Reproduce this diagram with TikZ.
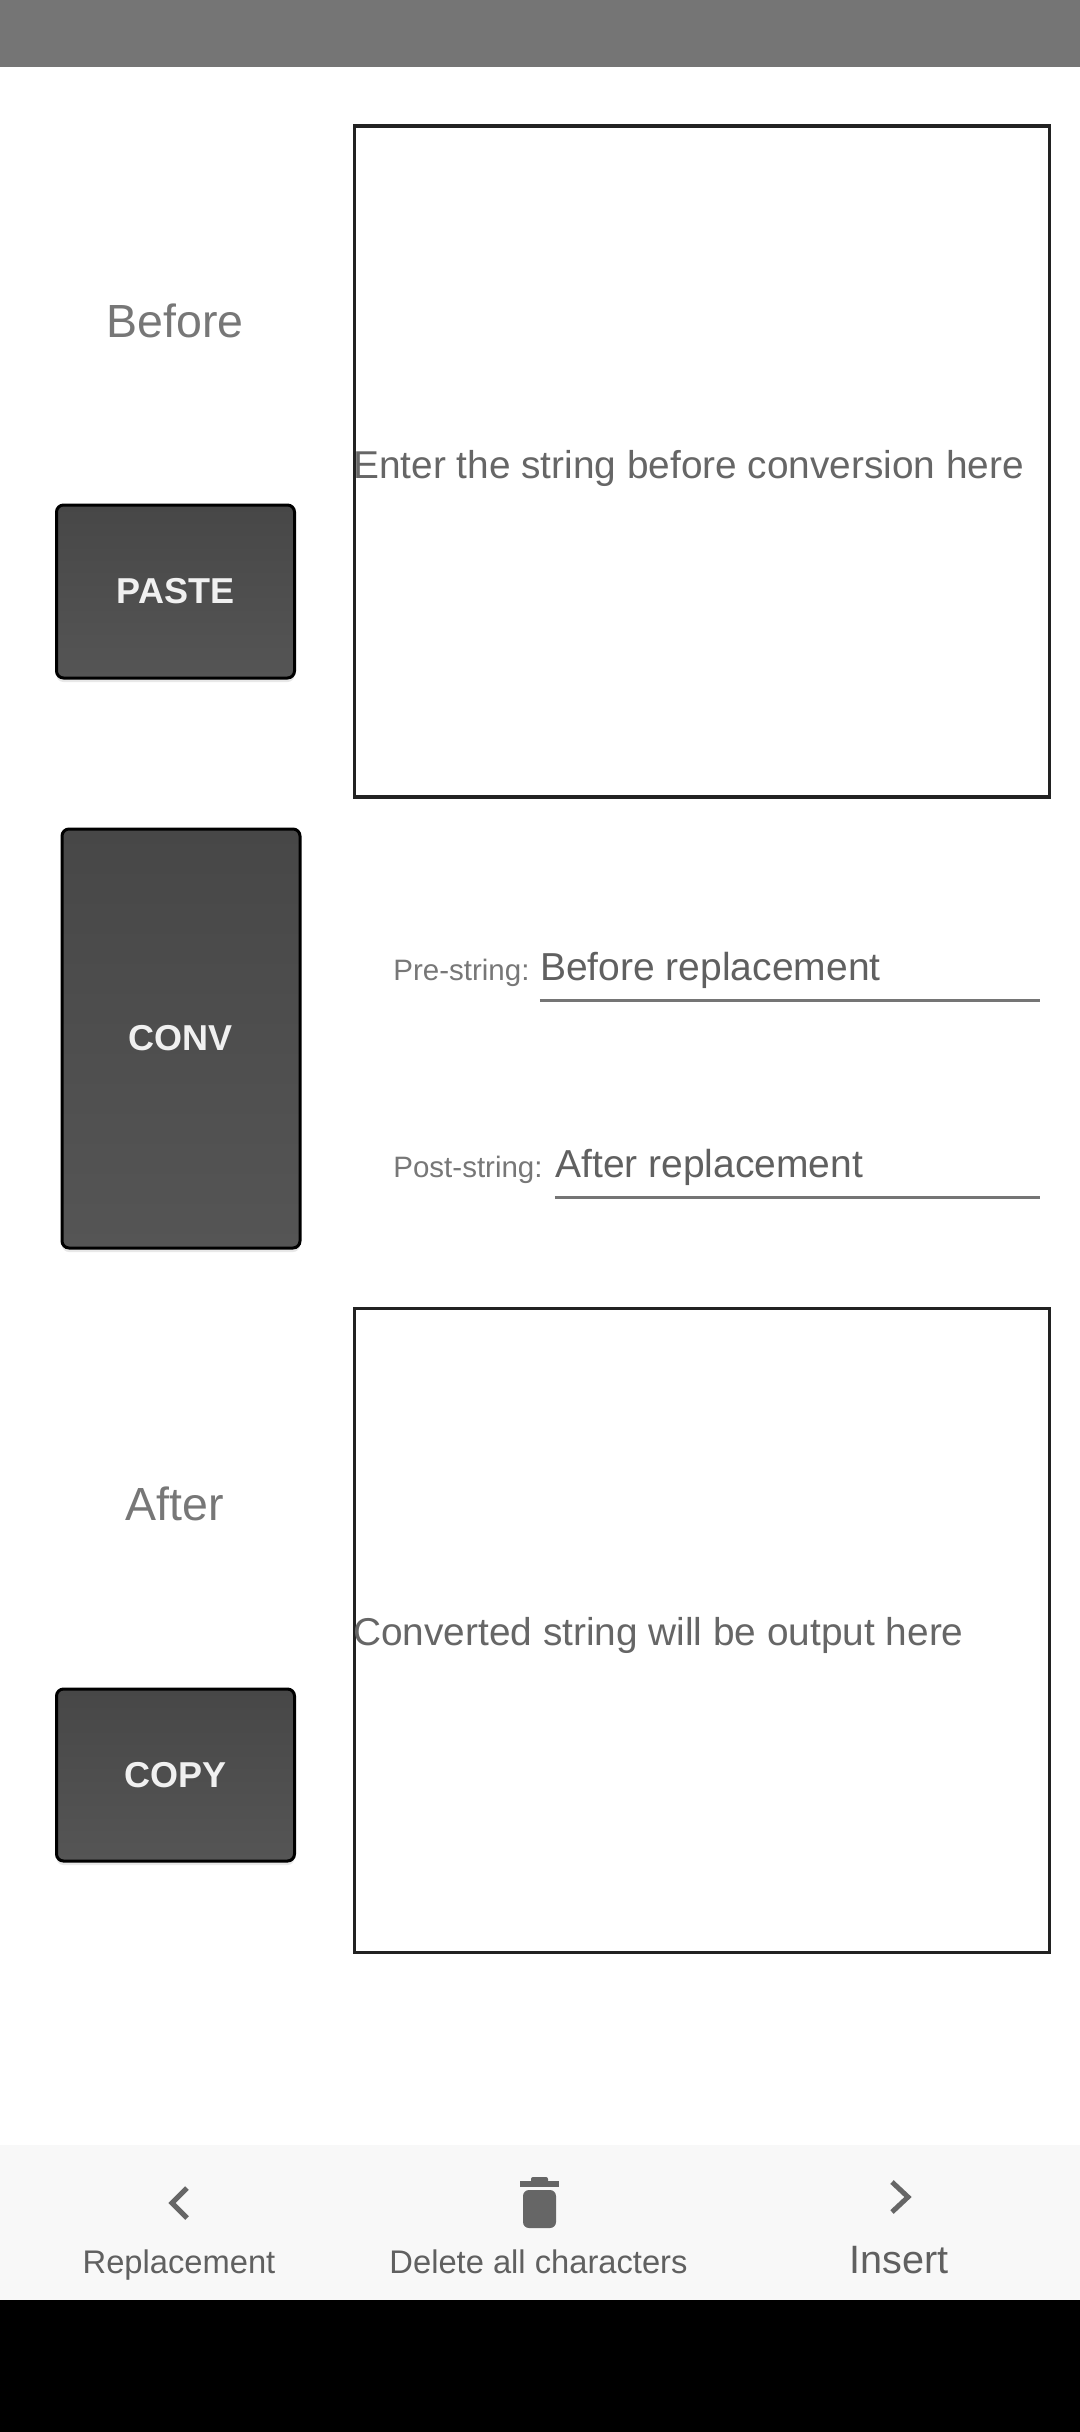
\documentclass[tikz,border=0pt]{standalone}
\usepackage{fontspec}
\setmainfont{Liberation Sans}
\usetikzlibrary{positioning,shadows}

\definecolor{barGray}{HTML}{757575}
\definecolor{btnTop}{HTML}{474747}
\definecolor{btnBot}{HTML}{555555}
\definecolor{labelGray}{HTML}{777777}
\definecolor{hintGray}{HTML}{666666}
\definecolor{valGray}{HTML}{606060}
\definecolor{navBg}{HTML}{F8F8F8}
\definecolor{iconGray}{HTML}{666666}
\definecolor{frameDark}{HTML}{222222}

\begin{document}
\begin{tikzpicture}[x=0.5pt,y=-0.5pt,
    btn/.style={draw=black, line width=1.5pt, rounded corners=3.5pt,
      top color=btnTop, bottom color=btnBot, text=white!94!black,
      minimum width=119pt, inner sep=0pt,
      font=\fontsize{18}{20}\selectfont\bfseries,
      drop shadow={shadow xshift=0pt, shadow yshift=-2pt, opacity=0.18}},
    txtbox/.style={draw=frameDark, line width=1.6pt, fill=white,
      minimum width=347.5pt, inner sep=0pt},
    side/.style={text=labelGray, inner sep=0pt, font=\fontsize{23.25}{26}\selectfont},
    hint/.style={text=hintGray, inner sep=0pt, font=\fontsize{19.4}{22}\selectfont},
    field/.style={text=labelGray, inner sep=0pt, font=\fontsize{14.75}{17}\selectfont},
    fieldval/.style={text=valGray, inner sep=0pt, font=\fontsize{19.5}{22}\selectfont},
    uline/.style={draw=barGray, line width=1.5pt},
    navlabel/.style={text=valGray, inner sep=0pt, font=\fontsize{16.35}{19}\selectfont},
    chevron/.style={draw=iconGray, line width=2.5pt, miter limit=10}]
  \useasboundingbox (0,0) rectangle (1080,2432);
  \fill[white] (0,0) rectangle (1080,2432);

  % status bar and bottom bars
  \fill[barGray] (0,0) rectangle (1080,67);
  \fill[navBg] (0,2145) rectangle (1080,2300);
  \fill[black] (0,2300) rectangle (1080,2432);

  % input side
  \node[side, anchor=base] (before) at (175,337) {Before};
  \node[txtbox, minimum height=335.5pt] (srcbox) at (702,461.5) {};
  \node[hint, anchor=base west] (srchint) at (srcbox.west |- 0,478)
    {Enter the string before conversion here};
  \node[btn, minimum height=86.5pt] (paste) at (175.5,591.5) {PASTE};

  % conversion
  \node[btn, minimum height=209.5pt] (conv) at (181,1038.5) {CONV};
  \node[field, anchor=base west] (pre) at (393,980) {Pre-string:};
  \node[fieldval, base right=5pt of pre] (preval) {Before replacement};
  \draw[uline] (preval.west |- 0,1000) -- (1040,1000);
  \node[field, anchor=base west] (post) at (393,1177) {Post-string:};
  \node[fieldval, base right=6pt of post] (postval) {After replacement};
  \draw[uline] (postval.west |- 0,1197) -- (1040,1197);

  % output side
  \node[side, anchor=base] (after) at (175,1520) {After};
  \node[txtbox, minimum height=322pt] (dstbox) at (702,1630.5) {};
  \node[hint, anchor=base west] (dsthint) at (dstbox.west |- 0,1645)
    {Converted string will be output here};
  \node[btn, minimum height=86pt] (copy) at (175.5,1775) {COPY};

  % navigation
  \draw[chevron] (187,2188) -- (172,2203) -- (187,2218);
  \fill[iconGray, rounded corners=1pt] (531,2177) rectangle (548,2183);
  \fill[iconGray] (520,2181) rectangle (559,2187);
  \fill[iconGray, rounded corners=3pt] (523,2190) rectangle (556,2228);
  \draw[chevron] (892,2182) -- (908,2197) -- (892,2212);
  \node[navlabel, anchor=base] (back) at (179,2273) {Replacement};
  \node[navlabel, anchor=base] (clear) at (538.5,2273) {Delete all characters};
  \node[navlabel, anchor=base, font=\fontsize{19.8}{22}\selectfont] (insert) at (899,2273) {Insert};
\end{tikzpicture}
\end{document}
